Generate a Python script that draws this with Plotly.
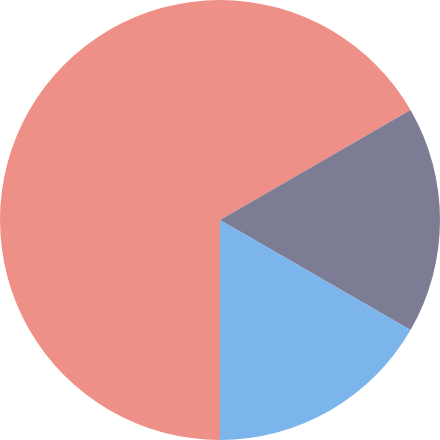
import plotly.graph_objects as go

labels = ["A", "B", "C"]
values = [4, 1, 1]
colors = ["#EE9087", "#7C7C94", "#7CB5EC"]

fig = go.Figure(go.Pie(
    labels=labels,
    values=values,
    marker=dict(colors=colors, line=dict(width=0)),
    sort=False,
    direction="clockwise",
    rotation=180,
    textinfo="none",
    hoverinfo="label+value",
))
fig.update_layout(
    width=440, height=440,
    margin=dict(l=0, r=0, t=0, b=0),
    showlegend=False,
    paper_bgcolor="white",
)
fig.write_html(
    "out.html",
    config={"displayModeBar": False},
    post_script="document.body.style.margin='0';document.body.style.overflow='hidden';",
)
